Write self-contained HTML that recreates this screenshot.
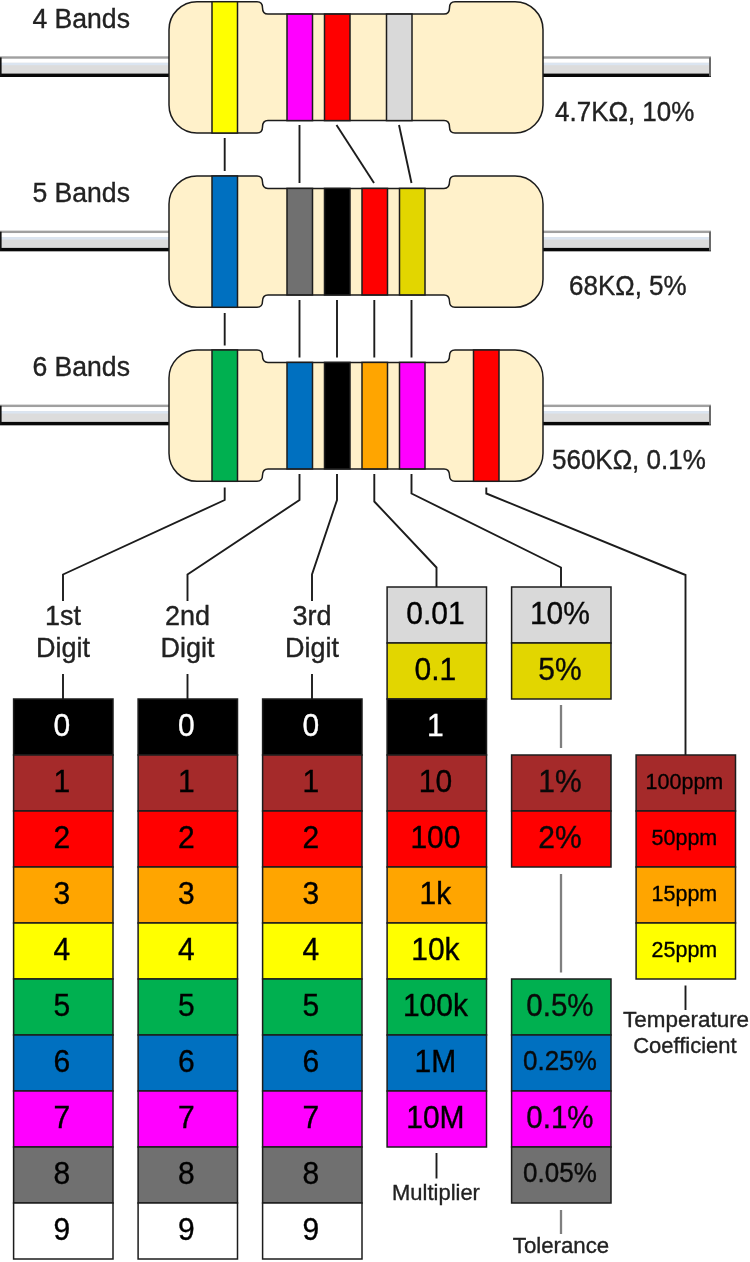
<!DOCTYPE html>
<html lang="en"><head><meta charset="utf-8"><title>Resistor Colour Code</title>
<style>html,body{margin:0;padding:0;background:#fff}svg{display:block;filter:blur(0.65px)}</style></head>
<body>
<svg width="750" height="1262" viewBox="0 0 750 1262" font-family="'Liberation Sans', Arial, sans-serif">
<rect width="750" height="1262" fill="#fff"/>
<rect x="0" y="56.400000000000006" width="170" height="20.6" fill="#dcdcdc"/>
<rect x="0" y="56.400000000000006" width="170" height="2.4" fill="#a0a0a0"/>
<rect x="0" y="58.800000000000004" width="170" height="4" fill="#ffffff"/>
<rect x="0" y="62.800000000000004" width="170" height="2.4" fill="#dbe5f1"/>
<rect x="0" y="73.60000000000001" width="170" height="3.4" fill="#080808"/>
<rect x="0" y="57.400000000000006" width="1.6" height="19" fill="#111"/>
<rect x="542" y="56.400000000000006" width="169" height="20.6" fill="#dcdcdc"/>
<rect x="542" y="56.400000000000006" width="169" height="2.4" fill="#a0a0a0"/>
<rect x="542" y="58.800000000000004" width="169" height="4" fill="#ffffff"/>
<rect x="542" y="62.800000000000004" width="169" height="2.4" fill="#dbe5f1"/>
<rect x="542" y="73.60000000000001" width="169" height="3.4" fill="#080808"/>
<rect x="709" y="57.400000000000006" width="2" height="19" fill="#6a6a6a"/>
<path d="M197,1.7 H257.0 Q262.5,1.7 262.5,7.7 Q262.5,14.1 268.0,14.1 H444.0 Q449.5,14.1 449.5,7.7 Q449.5,1.7 455.0,1.7 H515 A28 28 0 0 1 543,29.7 V105.0 A28 28 0 0 1 515,133.0 H455.0 Q449.5,133.0 449.5,127.0 Q449.5,120.6 444.0,120.6 H268.0 Q262.5,120.6 262.5,127.0 Q262.5,133.0 257.0,133.0 H197 A28 28 0 0 1 169,105.0 V29.7 A28 28 0 0 1 197,1.7 Z" fill="#fff1ca" stroke="#1c1c1c" stroke-width="1.5"/>
<rect x="212" y="1.7" width="25.5" height="131.3" fill="#ffff00" stroke="#1c1c1c" stroke-width="1.5"/>
<rect x="287" y="14.1" width="25.5" height="106.5" fill="#ff00ff" stroke="#1c1c1c" stroke-width="1.5"/>
<rect x="324.5" y="14.1" width="25.5" height="106.5" fill="#ff0000" stroke="#1c1c1c" stroke-width="1.5"/>
<rect x="386.5" y="14.1" width="25.5" height="106.5" fill="#d9d9d9" stroke="#1c1c1c" stroke-width="1.5"/>
<text transform="translate(32.4,27.5) scale(1,1.045)" font-size="26.6" fill="#222" stroke="#222" stroke-width="0.35">4 Bands</text>
<text transform="translate(555,121.0) scale(1,1.045)" font-size="26" fill="#222" stroke="#222" stroke-width="0.35">4.7KΩ, 10%</text>
<rect x="0" y="230.7" width="170" height="20.6" fill="#dcdcdc"/>
<rect x="0" y="230.7" width="170" height="2.4" fill="#a0a0a0"/>
<rect x="0" y="233.1" width="170" height="4" fill="#ffffff"/>
<rect x="0" y="237.1" width="170" height="2.4" fill="#dbe5f1"/>
<rect x="0" y="247.89999999999998" width="170" height="3.4" fill="#080808"/>
<rect x="0" y="231.7" width="1.6" height="19" fill="#111"/>
<rect x="542" y="230.7" width="169" height="20.6" fill="#dcdcdc"/>
<rect x="542" y="230.7" width="169" height="2.4" fill="#a0a0a0"/>
<rect x="542" y="233.1" width="169" height="4" fill="#ffffff"/>
<rect x="542" y="237.1" width="169" height="2.4" fill="#dbe5f1"/>
<rect x="542" y="247.89999999999998" width="169" height="3.4" fill="#080808"/>
<rect x="709" y="231.7" width="2" height="19" fill="#6a6a6a"/>
<path d="M197,176 H257.0 Q262.5,176 262.5,182 Q262.5,188.4 268.0,188.4 H444.0 Q449.5,188.4 449.5,182 Q449.5,176 455.0,176 H515 A28 28 0 0 1 543,204 V279.3 A28 28 0 0 1 515,307.3 H455.0 Q449.5,307.3 449.5,301.3 Q449.5,294.90000000000003 444.0,294.90000000000003 H268.0 Q262.5,294.90000000000003 262.5,301.3 Q262.5,307.3 257.0,307.3 H197 A28 28 0 0 1 169,279.3 V204 A28 28 0 0 1 197,176 Z" fill="#fff1ca" stroke="#1c1c1c" stroke-width="1.5"/>
<rect x="212" y="176" width="25.5" height="131.3" fill="#0070c0" stroke="#1c1c1c" stroke-width="1.5"/>
<rect x="287" y="188.4" width="25.5" height="106.50000000000003" fill="#707070" stroke="#1c1c1c" stroke-width="1.5"/>
<rect x="324.5" y="188.4" width="25.5" height="106.50000000000003" fill="#000000" stroke="#1c1c1c" stroke-width="1.5"/>
<rect x="362" y="188.4" width="25.5" height="106.50000000000003" fill="#ff0000" stroke="#1c1c1c" stroke-width="1.5"/>
<rect x="399.5" y="188.4" width="25.5" height="106.50000000000003" fill="#e2d600" stroke="#1c1c1c" stroke-width="1.5"/>
<text transform="translate(32.4,201.8) scale(1,1.045)" font-size="26.6" fill="#222" stroke="#222" stroke-width="0.35">5 Bands</text>
<text transform="translate(569,295.3) scale(1,1.045)" font-size="26" fill="#222" stroke="#222" stroke-width="0.35">68KΩ, 5%</text>
<rect x="0" y="404.7" width="170" height="20.6" fill="#dcdcdc"/>
<rect x="0" y="404.7" width="170" height="2.4" fill="#a0a0a0"/>
<rect x="0" y="407.09999999999997" width="170" height="4" fill="#ffffff"/>
<rect x="0" y="411.09999999999997" width="170" height="2.4" fill="#dbe5f1"/>
<rect x="0" y="421.9" width="170" height="3.4" fill="#080808"/>
<rect x="0" y="405.7" width="1.6" height="19" fill="#111"/>
<rect x="542" y="404.7" width="169" height="20.6" fill="#dcdcdc"/>
<rect x="542" y="404.7" width="169" height="2.4" fill="#a0a0a0"/>
<rect x="542" y="407.09999999999997" width="169" height="4" fill="#ffffff"/>
<rect x="542" y="411.09999999999997" width="169" height="2.4" fill="#dbe5f1"/>
<rect x="542" y="421.9" width="169" height="3.4" fill="#080808"/>
<rect x="709" y="405.7" width="2" height="19" fill="#6a6a6a"/>
<path d="M197,350 H257.0 Q262.5,350 262.5,356 Q262.5,362.4 268.0,362.4 H444.0 Q449.5,362.4 449.5,356 Q449.5,350 455.0,350 H515 A28 28 0 0 1 543,378 V453.3 A28 28 0 0 1 515,481.3 H455.0 Q449.5,481.3 449.5,475.3 Q449.5,468.90000000000003 444.0,468.90000000000003 H268.0 Q262.5,468.90000000000003 262.5,475.3 Q262.5,481.3 257.0,481.3 H197 A28 28 0 0 1 169,453.3 V378 A28 28 0 0 1 197,350 Z" fill="#fff1ca" stroke="#1c1c1c" stroke-width="1.5"/>
<rect x="212" y="350" width="25.5" height="131.3" fill="#00b050" stroke="#1c1c1c" stroke-width="1.5"/>
<rect x="287" y="362.4" width="25.5" height="106.50000000000006" fill="#0070c0" stroke="#1c1c1c" stroke-width="1.5"/>
<rect x="324.5" y="362.4" width="25.5" height="106.50000000000006" fill="#000000" stroke="#1c1c1c" stroke-width="1.5"/>
<rect x="362" y="362.4" width="25.5" height="106.50000000000006" fill="#ffa500" stroke="#1c1c1c" stroke-width="1.5"/>
<rect x="399.5" y="362.4" width="25.5" height="106.50000000000006" fill="#ff00ff" stroke="#1c1c1c" stroke-width="1.5"/>
<rect x="473.5" y="350" width="25.5" height="131.3" fill="#ff0000" stroke="#1c1c1c" stroke-width="1.5"/>
<text transform="translate(32.4,375.8) scale(1,1.045)" font-size="26.6" fill="#222" stroke="#222" stroke-width="0.35">6 Bands</text>
<text transform="translate(552,469.3) scale(1,1.045)" font-size="26" fill="#222" stroke="#222" stroke-width="0.35">560KΩ, 0.1%</text>
<polyline points="224.7,138 224.7,171" fill="none" stroke="#1c1c1c" stroke-width="1.9"/>
<polyline points="299.5,125 299.5,183" fill="none" stroke="#1c1c1c" stroke-width="1.9"/>
<polyline points="336.5,125 374,183" fill="none" stroke="#1c1c1c" stroke-width="1.9"/>
<polyline points="399,125 411.5,183" fill="none" stroke="#1c1c1c" stroke-width="1.9"/>
<polyline points="224.7,313 224.7,345.5" fill="none" stroke="#1c1c1c" stroke-width="1.9"/>
<polyline points="299.5,300 299.5,357.5" fill="none" stroke="#1c1c1c" stroke-width="1.9"/>
<polyline points="337,300 337,357.5" fill="none" stroke="#1c1c1c" stroke-width="1.9"/>
<polyline points="374.3,300 374.3,357.5" fill="none" stroke="#1c1c1c" stroke-width="1.9"/>
<polyline points="411.5,300 411.5,357.5" fill="none" stroke="#1c1c1c" stroke-width="1.9"/>
<polyline points="224.7,487.5 224.7,500 63.0,574.5 63.0,601" fill="none" stroke="#1c1c1c" stroke-width="1.9"/>
<polyline points="299.5,474 299.5,500 187.5,574.5 187.5,601" fill="none" stroke="#1c1c1c" stroke-width="1.9"/>
<polyline points="337,474 337,500 312.0,574.5 312.0,601" fill="none" stroke="#1c1c1c" stroke-width="1.9"/>
<polyline points="374.3,474 374.3,501.5 436.5,567.5 436.5,587" fill="none" stroke="#1c1c1c" stroke-width="1.9"/>
<polyline points="411.5,474 411.5,493.5 561.0,567.5 561.0,587" fill="none" stroke="#1c1c1c" stroke-width="1.9"/>
<polyline points="486.3,487.5 486.3,493.5 685.5,575 685.5,755" fill="none" stroke="#1c1c1c" stroke-width="1.9"/>
<text transform="translate(63.0,625.3) scale(1,1.045)" font-size="27" fill="#222" stroke="#222" stroke-width="0.35" text-anchor="middle">1st</text>
<text transform="translate(63.0,656.8) scale(1,1.045)" font-size="27" fill="#222" stroke="#222" stroke-width="0.35" text-anchor="middle">Digit</text>
<polyline points="63.0,674 63.0,699" fill="none" stroke="#1c1c1c" stroke-width="1.9"/>
<text transform="translate(187.5,625.3) scale(1,1.045)" font-size="27" fill="#222" stroke="#222" stroke-width="0.35" text-anchor="middle">2nd</text>
<text transform="translate(187.5,656.8) scale(1,1.045)" font-size="27" fill="#222" stroke="#222" stroke-width="0.35" text-anchor="middle">Digit</text>
<polyline points="187.5,674 187.5,699" fill="none" stroke="#1c1c1c" stroke-width="1.9"/>
<text transform="translate(312.0,625.3) scale(1,1.045)" font-size="27" fill="#222" stroke="#222" stroke-width="0.35" text-anchor="middle">3rd</text>
<text transform="translate(312.0,656.8) scale(1,1.045)" font-size="27" fill="#222" stroke="#222" stroke-width="0.35" text-anchor="middle">Digit</text>
<polyline points="312.0,674 312.0,699" fill="none" stroke="#1c1c1c" stroke-width="1.9"/>
<rect x="13.599999999999994" y="699" width="99.4" height="56" fill="#000000" stroke="#1c1c1c" stroke-width="1.5"/>
<text transform="translate(61.9,735.5) scale(1,1.045)" font-size="30" fill="#fff" stroke="#fff" stroke-width="0.35" text-anchor="middle">0</text>
<rect x="13.599999999999994" y="755" width="99.4" height="56" fill="#a52a2a" stroke="#1c1c1c" stroke-width="1.5"/>
<text transform="translate(61.9,791.5) scale(1,1.045)" font-size="30" fill="#000" stroke="#000" stroke-width="0.35" text-anchor="middle">1</text>
<rect x="13.599999999999994" y="811" width="99.4" height="56" fill="#ff0000" stroke="#1c1c1c" stroke-width="1.5"/>
<text transform="translate(61.9,847.5) scale(1,1.045)" font-size="30" fill="#000" stroke="#000" stroke-width="0.35" text-anchor="middle">2</text>
<rect x="13.599999999999994" y="867" width="99.4" height="56" fill="#ffa500" stroke="#1c1c1c" stroke-width="1.5"/>
<text transform="translate(61.9,903.5) scale(1,1.045)" font-size="30" fill="#000" stroke="#000" stroke-width="0.35" text-anchor="middle">3</text>
<rect x="13.599999999999994" y="923" width="99.4" height="56" fill="#ffff00" stroke="#1c1c1c" stroke-width="1.5"/>
<text transform="translate(61.9,959.5) scale(1,1.045)" font-size="30" fill="#000" stroke="#000" stroke-width="0.35" text-anchor="middle">4</text>
<rect x="13.599999999999994" y="979" width="99.4" height="56" fill="#00b050" stroke="#1c1c1c" stroke-width="1.5"/>
<text transform="translate(61.9,1015.5) scale(1,1.045)" font-size="30" fill="#000" stroke="#000" stroke-width="0.35" text-anchor="middle">5</text>
<rect x="13.599999999999994" y="1035" width="99.4" height="56" fill="#0070c0" stroke="#1c1c1c" stroke-width="1.5"/>
<text transform="translate(61.9,1071.5) scale(1,1.045)" font-size="30" fill="#000" stroke="#000" stroke-width="0.35" text-anchor="middle">6</text>
<rect x="13.599999999999994" y="1091" width="99.4" height="56" fill="#ff00ff" stroke="#1c1c1c" stroke-width="1.5"/>
<text transform="translate(61.9,1127.5) scale(1,1.045)" font-size="30" fill="#000" stroke="#000" stroke-width="0.35" text-anchor="middle">7</text>
<rect x="13.599999999999994" y="1147" width="99.4" height="56" fill="#707070" stroke="#1c1c1c" stroke-width="1.5"/>
<text transform="translate(61.9,1183.5) scale(1,1.045)" font-size="30" fill="#000" stroke="#000" stroke-width="0.35" text-anchor="middle">8</text>
<rect x="13.599999999999994" y="1203" width="99.4" height="56" fill="#ffffff" stroke="#1c1c1c" stroke-width="1.5"/>
<text transform="translate(61.9,1239.5) scale(1,1.045)" font-size="30" fill="#000" stroke="#000" stroke-width="0.35" text-anchor="middle">9</text>
<rect x="138.10000000000002" y="699" width="99.4" height="56" fill="#000000" stroke="#1c1c1c" stroke-width="1.5"/>
<text transform="translate(186.4,735.5) scale(1,1.045)" font-size="30" fill="#fff" stroke="#fff" stroke-width="0.35" text-anchor="middle">0</text>
<rect x="138.10000000000002" y="755" width="99.4" height="56" fill="#a52a2a" stroke="#1c1c1c" stroke-width="1.5"/>
<text transform="translate(186.4,791.5) scale(1,1.045)" font-size="30" fill="#000" stroke="#000" stroke-width="0.35" text-anchor="middle">1</text>
<rect x="138.10000000000002" y="811" width="99.4" height="56" fill="#ff0000" stroke="#1c1c1c" stroke-width="1.5"/>
<text transform="translate(186.4,847.5) scale(1,1.045)" font-size="30" fill="#000" stroke="#000" stroke-width="0.35" text-anchor="middle">2</text>
<rect x="138.10000000000002" y="867" width="99.4" height="56" fill="#ffa500" stroke="#1c1c1c" stroke-width="1.5"/>
<text transform="translate(186.4,903.5) scale(1,1.045)" font-size="30" fill="#000" stroke="#000" stroke-width="0.35" text-anchor="middle">3</text>
<rect x="138.10000000000002" y="923" width="99.4" height="56" fill="#ffff00" stroke="#1c1c1c" stroke-width="1.5"/>
<text transform="translate(186.4,959.5) scale(1,1.045)" font-size="30" fill="#000" stroke="#000" stroke-width="0.35" text-anchor="middle">4</text>
<rect x="138.10000000000002" y="979" width="99.4" height="56" fill="#00b050" stroke="#1c1c1c" stroke-width="1.5"/>
<text transform="translate(186.4,1015.5) scale(1,1.045)" font-size="30" fill="#000" stroke="#000" stroke-width="0.35" text-anchor="middle">5</text>
<rect x="138.10000000000002" y="1035" width="99.4" height="56" fill="#0070c0" stroke="#1c1c1c" stroke-width="1.5"/>
<text transform="translate(186.4,1071.5) scale(1,1.045)" font-size="30" fill="#000" stroke="#000" stroke-width="0.35" text-anchor="middle">6</text>
<rect x="138.10000000000002" y="1091" width="99.4" height="56" fill="#ff00ff" stroke="#1c1c1c" stroke-width="1.5"/>
<text transform="translate(186.4,1127.5) scale(1,1.045)" font-size="30" fill="#000" stroke="#000" stroke-width="0.35" text-anchor="middle">7</text>
<rect x="138.10000000000002" y="1147" width="99.4" height="56" fill="#707070" stroke="#1c1c1c" stroke-width="1.5"/>
<text transform="translate(186.4,1183.5) scale(1,1.045)" font-size="30" fill="#000" stroke="#000" stroke-width="0.35" text-anchor="middle">8</text>
<rect x="138.10000000000002" y="1203" width="99.4" height="56" fill="#ffffff" stroke="#1c1c1c" stroke-width="1.5"/>
<text transform="translate(186.4,1239.5) scale(1,1.045)" font-size="30" fill="#000" stroke="#000" stroke-width="0.35" text-anchor="middle">9</text>
<rect x="262.6" y="699" width="99.4" height="56" fill="#000000" stroke="#1c1c1c" stroke-width="1.5"/>
<text transform="translate(310.90000000000003,735.5) scale(1,1.045)" font-size="30" fill="#fff" stroke="#fff" stroke-width="0.35" text-anchor="middle">0</text>
<rect x="262.6" y="755" width="99.4" height="56" fill="#a52a2a" stroke="#1c1c1c" stroke-width="1.5"/>
<text transform="translate(310.90000000000003,791.5) scale(1,1.045)" font-size="30" fill="#000" stroke="#000" stroke-width="0.35" text-anchor="middle">1</text>
<rect x="262.6" y="811" width="99.4" height="56" fill="#ff0000" stroke="#1c1c1c" stroke-width="1.5"/>
<text transform="translate(310.90000000000003,847.5) scale(1,1.045)" font-size="30" fill="#000" stroke="#000" stroke-width="0.35" text-anchor="middle">2</text>
<rect x="262.6" y="867" width="99.4" height="56" fill="#ffa500" stroke="#1c1c1c" stroke-width="1.5"/>
<text transform="translate(310.90000000000003,903.5) scale(1,1.045)" font-size="30" fill="#000" stroke="#000" stroke-width="0.35" text-anchor="middle">3</text>
<rect x="262.6" y="923" width="99.4" height="56" fill="#ffff00" stroke="#1c1c1c" stroke-width="1.5"/>
<text transform="translate(310.90000000000003,959.5) scale(1,1.045)" font-size="30" fill="#000" stroke="#000" stroke-width="0.35" text-anchor="middle">4</text>
<rect x="262.6" y="979" width="99.4" height="56" fill="#00b050" stroke="#1c1c1c" stroke-width="1.5"/>
<text transform="translate(310.90000000000003,1015.5) scale(1,1.045)" font-size="30" fill="#000" stroke="#000" stroke-width="0.35" text-anchor="middle">5</text>
<rect x="262.6" y="1035" width="99.4" height="56" fill="#0070c0" stroke="#1c1c1c" stroke-width="1.5"/>
<text transform="translate(310.90000000000003,1071.5) scale(1,1.045)" font-size="30" fill="#000" stroke="#000" stroke-width="0.35" text-anchor="middle">6</text>
<rect x="262.6" y="1091" width="99.4" height="56" fill="#ff00ff" stroke="#1c1c1c" stroke-width="1.5"/>
<text transform="translate(310.90000000000003,1127.5) scale(1,1.045)" font-size="30" fill="#000" stroke="#000" stroke-width="0.35" text-anchor="middle">7</text>
<rect x="262.6" y="1147" width="99.4" height="56" fill="#707070" stroke="#1c1c1c" stroke-width="1.5"/>
<text transform="translate(310.90000000000003,1183.5) scale(1,1.045)" font-size="30" fill="#000" stroke="#000" stroke-width="0.35" text-anchor="middle">8</text>
<rect x="262.6" y="1203" width="99.4" height="56" fill="#ffffff" stroke="#1c1c1c" stroke-width="1.5"/>
<text transform="translate(310.90000000000003,1239.5) scale(1,1.045)" font-size="30" fill="#000" stroke="#000" stroke-width="0.35" text-anchor="middle">9</text>
<rect x="387.1" y="587" width="99.4" height="56" fill="#d9d9d9" stroke="#1c1c1c" stroke-width="1.5"/>
<text transform="translate(435.40000000000003,623.5) scale(1,1.045)" font-size="30" fill="#000" stroke="#000" stroke-width="0.35" text-anchor="middle">0.01</text>
<rect x="387.1" y="643" width="99.4" height="56" fill="#e2d600" stroke="#1c1c1c" stroke-width="1.5"/>
<text transform="translate(435.40000000000003,679.5) scale(1,1.045)" font-size="30" fill="#000" stroke="#000" stroke-width="0.35" text-anchor="middle">0.1</text>
<rect x="387.1" y="699" width="99.4" height="56" fill="#000000" stroke="#1c1c1c" stroke-width="1.5"/>
<text transform="translate(435.40000000000003,735.5) scale(1,1.045)" font-size="30" fill="#fff" stroke="#fff" stroke-width="0.35" text-anchor="middle">1</text>
<rect x="387.1" y="755" width="99.4" height="56" fill="#a52a2a" stroke="#1c1c1c" stroke-width="1.5"/>
<text transform="translate(435.40000000000003,791.5) scale(1,1.045)" font-size="30" fill="#000" stroke="#000" stroke-width="0.35" text-anchor="middle">10</text>
<rect x="387.1" y="811" width="99.4" height="56" fill="#ff0000" stroke="#1c1c1c" stroke-width="1.5"/>
<text transform="translate(435.40000000000003,847.5) scale(1,1.045)" font-size="30" fill="#000" stroke="#000" stroke-width="0.35" text-anchor="middle">100</text>
<rect x="387.1" y="867" width="99.4" height="56" fill="#ffa500" stroke="#1c1c1c" stroke-width="1.5"/>
<text transform="translate(435.40000000000003,903.5) scale(1,1.045)" font-size="30" fill="#000" stroke="#000" stroke-width="0.35" text-anchor="middle">1k</text>
<rect x="387.1" y="923" width="99.4" height="56" fill="#ffff00" stroke="#1c1c1c" stroke-width="1.5"/>
<text transform="translate(435.40000000000003,959.5) scale(1,1.045)" font-size="30" fill="#000" stroke="#000" stroke-width="0.35" text-anchor="middle">10k</text>
<rect x="387.1" y="979" width="99.4" height="56" fill="#00b050" stroke="#1c1c1c" stroke-width="1.5"/>
<text transform="translate(435.40000000000003,1015.5) scale(1,1.045)" font-size="30" fill="#000" stroke="#000" stroke-width="0.35" text-anchor="middle">100k</text>
<rect x="387.1" y="1035" width="99.4" height="56" fill="#0070c0" stroke="#1c1c1c" stroke-width="1.5"/>
<text transform="translate(435.40000000000003,1071.5) scale(1,1.045)" font-size="30" fill="#000" stroke="#000" stroke-width="0.35" text-anchor="middle">1M</text>
<rect x="387.1" y="1091" width="99.4" height="56" fill="#ff00ff" stroke="#1c1c1c" stroke-width="1.5"/>
<text transform="translate(435.40000000000003,1127.5) scale(1,1.045)" font-size="30" fill="#000" stroke="#000" stroke-width="0.35" text-anchor="middle">10M</text>
<rect x="511.59999999999997" y="587" width="99.4" height="56" fill="#d9d9d9" stroke="#1c1c1c" stroke-width="1.5"/>
<text transform="translate(559.9,623.5) scale(1,1.045)" font-size="30" fill="#0a0a0a" stroke="#0a0a0a" stroke-width="0.35" text-anchor="middle">10%</text>
<rect x="511.59999999999997" y="643" width="99.4" height="56" fill="#e2d600" stroke="#1c1c1c" stroke-width="1.5"/>
<text transform="translate(559.9,679.5) scale(1,1.045)" font-size="30" fill="#0a0a0a" stroke="#0a0a0a" stroke-width="0.35" text-anchor="middle">5%</text>
<rect x="511.59999999999997" y="755" width="99.4" height="56" fill="#a52a2a" stroke="#1c1c1c" stroke-width="1.5"/>
<text transform="translate(559.9,791.5) scale(1,1.045)" font-size="30" fill="#0a0a0a" stroke="#0a0a0a" stroke-width="0.35" text-anchor="middle">1%</text>
<rect x="511.59999999999997" y="811" width="99.4" height="56" fill="#ff0000" stroke="#1c1c1c" stroke-width="1.5"/>
<text transform="translate(559.9,847.5) scale(1,1.045)" font-size="30" fill="#0a0a0a" stroke="#0a0a0a" stroke-width="0.35" text-anchor="middle">2%</text>
<rect x="511.59999999999997" y="979" width="99.4" height="56" fill="#00b050" stroke="#1c1c1c" stroke-width="1.5"/>
<text transform="translate(559.9,1015.5) scale(1,1.045)" font-size="29.5" fill="#0a0a0a" stroke="#0a0a0a" stroke-width="0.35" text-anchor="middle">0.5%</text>
<rect x="511.59999999999997" y="1035" width="99.4" height="56" fill="#0070c0" stroke="#1c1c1c" stroke-width="1.5"/>
<text transform="translate(559.9,1069.8) scale(1,1.045)" font-size="26" fill="#0a0a0a" stroke="#0a0a0a" stroke-width="0.35" text-anchor="middle">0.25%</text>
<rect x="511.59999999999997" y="1091" width="99.4" height="56" fill="#ff00ff" stroke="#1c1c1c" stroke-width="1.5"/>
<text transform="translate(559.9,1127.5) scale(1,1.045)" font-size="29.5" fill="#0a0a0a" stroke="#0a0a0a" stroke-width="0.35" text-anchor="middle">0.1%</text>
<rect x="511.59999999999997" y="1147" width="99.4" height="56" fill="#707070" stroke="#1c1c1c" stroke-width="1.5"/>
<text transform="translate(559.9,1181.8) scale(1,1.045)" font-size="26" fill="#0a0a0a" stroke="#0a0a0a" stroke-width="0.35" text-anchor="middle">0.05%</text>
<rect x="636.0999999999999" y="755" width="99.4" height="56" fill="#a52a2a" stroke="#1c1c1c" stroke-width="1.5"/>
<text transform="translate(684.4,788.5) scale(1,1.045)" font-size="21.5" fill="#000" stroke="#000" stroke-width="0.35" text-anchor="middle">100ppm</text>
<rect x="636.0999999999999" y="811" width="99.4" height="56" fill="#ff0000" stroke="#1c1c1c" stroke-width="1.5"/>
<text transform="translate(684.4,844.5) scale(1,1.045)" font-size="21.5" fill="#000" stroke="#000" stroke-width="0.35" text-anchor="middle">50ppm</text>
<rect x="636.0999999999999" y="867" width="99.4" height="56" fill="#ffa500" stroke="#1c1c1c" stroke-width="1.5"/>
<text transform="translate(684.4,900.5) scale(1,1.045)" font-size="21.5" fill="#000" stroke="#000" stroke-width="0.35" text-anchor="middle">15ppm</text>
<rect x="636.0999999999999" y="923" width="99.4" height="56" fill="#ffff00" stroke="#1c1c1c" stroke-width="1.5"/>
<text transform="translate(684.4,956.5) scale(1,1.045)" font-size="21.5" fill="#000" stroke="#000" stroke-width="0.35" text-anchor="middle">25ppm</text>
<polyline points="561.0,705 561.0,748" fill="none" stroke="#7f7f7f" stroke-width="2.3"/>
<polyline points="561.0,874 561.0,972.5" fill="none" stroke="#7f7f7f" stroke-width="2.3"/>
<polyline points="436.5,1153 436.5,1178.5" fill="none" stroke="#1c1c1c" stroke-width="1.9"/>
<text transform="translate(436.0,1200) scale(1.012,1.045)" font-size="21.7" fill="#222" stroke="#222" stroke-width="0.35" text-anchor="middle">Multiplier</text>
<polyline points="561.0,1210 561.0,1234" fill="none" stroke="#7f7f7f" stroke-width="2.3"/>
<text transform="translate(561.0,1252.5) scale(1.025,1.045)" font-size="21.7" fill="#222" stroke="#222" stroke-width="0.35" text-anchor="middle">Tolerance</text>
<polyline points="685.5,985.5 685.5,1010" fill="none" stroke="#1c1c1c" stroke-width="1.9"/>
<text transform="translate(686.1,1027) scale(1.035,1.045)" font-size="21.7" fill="#222" stroke="#222" stroke-width="0.35" text-anchor="middle">Temperature</text>
<text transform="translate(684.9,1052.5) scale(1.013,1.045)" font-size="21.7" fill="#222" stroke="#222" stroke-width="0.35" text-anchor="middle">Coefficient</text>
</svg>
</body></html>
